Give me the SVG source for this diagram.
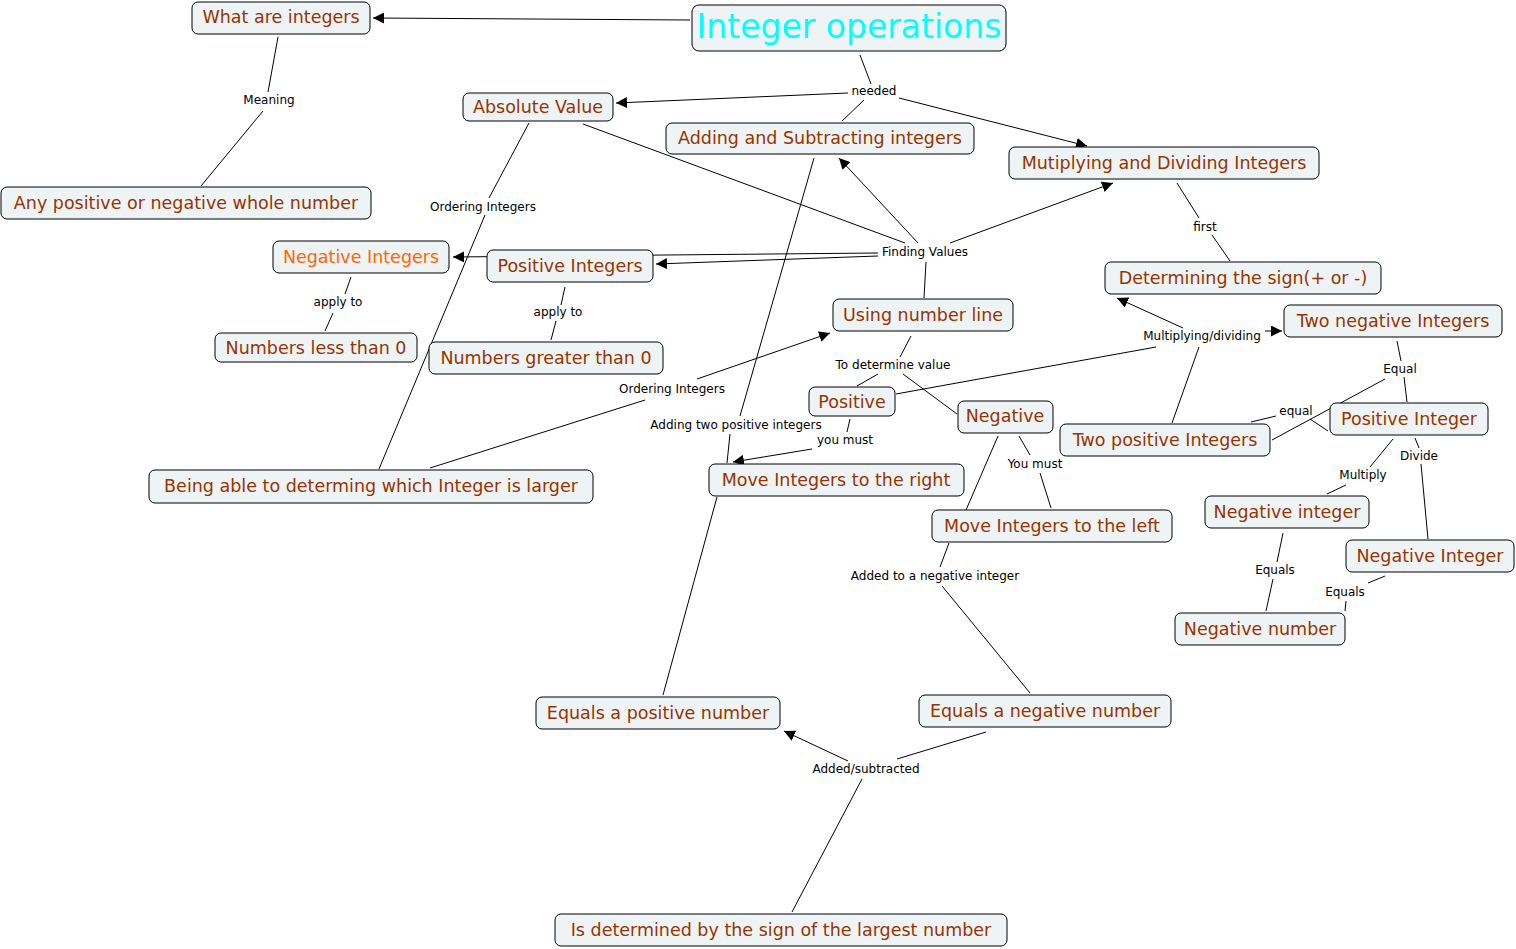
<svg xmlns="http://www.w3.org/2000/svg" width="1516" height="949" viewBox="0 0 1516 949">
<style>
.n rect{fill:#eef4f5;stroke:#000;stroke-width:1}
.n text{font-family:"DejaVu Sans",Verdana,sans-serif;font-size:17.5px;fill:#993300;text-anchor:middle}
.c line{stroke:#000;stroke-width:1}
.l{font-family:"DejaVu Sans",Verdana,sans-serif;font-size:12px;fill:#000;text-anchor:middle}
</style>
<defs><marker id="a" viewBox="0 0 10 10" refX="10" refY="5" markerWidth="11" markerHeight="11" markerUnits="userSpaceOnUse" orient="auto"><path d="M0,0L10,5L0,10z" fill="#000"/></marker></defs>
<rect width="1516" height="949" fill="#fff"/>
<g class="c">
<line x1="690" y1="20" x2="373" y2="18" marker-end="url(#a)"/>
<line x1="278" y1="37" x2="268" y2="92"/><line x1="263" y1="111" x2="201" y2="186"/>
<line x1="860" y1="55" x2="871" y2="84"/>
<line x1="848" y1="93" x2="616" y2="103" marker-end="url(#a)"/>
<line x1="864" y1="100" x2="842" y2="121"/>
<line x1="899" y1="98" x2="1087" y2="146" marker-end="url(#a)"/>
<line x1="529" y1="123" x2="489" y2="198"/><line x1="485" y1="215" x2="379" y2="469"/>
<line x1="583" y1="124" x2="905" y2="243"/>
<line x1="918" y1="243" x2="839" y2="158" marker-end="url(#a)"/>
<line x1="950" y1="243" x2="1113" y2="183" marker-end="url(#a)"/>
<line x1="878" y1="256" x2="656" y2="264" marker-end="url(#a)"/>
<line x1="878" y1="253" x2="453" y2="257" marker-end="url(#a)"/>
<line x1="926" y1="262" x2="924" y2="298"/>
<line x1="1177" y1="183" x2="1199" y2="218"/><line x1="1212" y1="235" x2="1230" y2="261"/>
<line x1="351" y1="277" x2="345" y2="294"/><line x1="333" y1="313" x2="325" y2="331"/>
<line x1="565" y1="287" x2="561" y2="305"/><line x1="556" y1="321" x2="551" y2="340"/>
<line x1="911" y1="336" x2="900" y2="357"/><line x1="878" y1="374" x2="857" y2="386"/><line x1="903" y1="374" x2="957" y2="414"/>
<line x1="896" y1="394" x2="1156" y2="347"/>
<line x1="1183" y1="328" x2="1117" y2="298" marker-end="url(#a)"/>
<line x1="1265" y1="331" x2="1282" y2="331" marker-end="url(#a)"/>
<line x1="1172" y1="423" x2="1199" y2="347"/>
<line x1="1397" y1="341" x2="1401" y2="361"/><line x1="1404" y1="377" x2="1407" y2="402"/>
<line x1="1385" y1="379" x2="1272" y2="440"/>
<line x1="1251" y1="422" x2="1276" y2="416"/><line x1="1310" y1="419" x2="1328" y2="431"/>
<line x1="1393" y1="439" x2="1370" y2="467"/><line x1="1346" y1="485" x2="1327" y2="494"/>
<line x1="1415" y1="438" x2="1419" y2="448"/><line x1="1421" y1="464" x2="1428" y2="539"/>
<line x1="1283" y1="533" x2="1277" y2="562"/><line x1="1273" y1="579" x2="1266" y2="611"/>
<line x1="1385" y1="576" x2="1368" y2="583"/><line x1="1346" y1="601" x2="1345" y2="611"/>
<line x1="430" y1="468" x2="645" y2="400"/>
<line x1="697" y1="379" x2="830" y2="333" marker-end="url(#a)"/>
<line x1="814" y1="158" x2="740" y2="416"/><line x1="730" y1="434" x2="727" y2="463"/><line x1="717" y1="497" x2="663" y2="695"/>
<line x1="850" y1="419" x2="847" y2="432"/>
<line x1="812" y1="449" x2="733" y2="462" marker-end="url(#a)"/>
<line x1="1019" y1="436" x2="1030" y2="455"/><line x1="1040" y1="473" x2="1051" y2="508"/>
<line x1="998" y1="436" x2="966" y2="510"/>
<line x1="949" y1="543" x2="940" y2="567"/><line x1="942" y1="586" x2="1030" y2="693"/>
<line x1="986" y1="732" x2="897" y2="759"/>
<line x1="848" y1="761" x2="784" y2="731" marker-end="url(#a)"/>
<line x1="862" y1="779" x2="792" y2="912"/>
</g>
<g class="l-group">
<text class="l" x="269" y="104">Meaning</text>
<text class="l" x="874" y="95">needed</text>
<text class="l" x="483" y="211">Ordering Integers</text>
<text class="l" x="925" y="256">Finding Values</text>
<text class="l" x="1205" y="231">first</text>
<text class="l" x="338" y="306">apply to</text>
<text class="l" x="558" y="316">apply to</text>
<text class="l" x="893" y="369">To determine value</text>
<text class="l" x="1202" y="340">Multiplying/dividing</text>
<text class="l" x="1400" y="373">Equal</text>
<text class="l" x="1296" y="415">equal</text>
<text class="l" x="672" y="393">Ordering Integers</text>
<text class="l" x="736" y="429">Adding two positive integers</text>
<text class="l" x="845" y="444">you must</text>
<text class="l" x="1035" y="468">You must</text>
<text class="l" x="1419" y="460">Divide</text>
<text class="l" x="1363" y="479">Multiply</text>
<text class="l" x="1275" y="574">Equals</text>
<text class="l" x="1345" y="596">Equals</text>
<text class="l" x="935" y="580">Added to a negative integer</text>
<text class="l" x="866" y="773">Added/subtracted</text>
</g>
<g id="n-title" class="n"><rect x="692" y="5" width="314" height="46" rx="7"/><text x="849" y="38" style="font-size:33px;fill:#00ffff">Integer operations</text></g>
<g id="n-what" class="n"><rect x="192" y="2" width="178" height="32" rx="6"/><text x="281" y="23">What are integers</text></g>
<g id="n-any" class="n"><rect x="1" y="187" width="370" height="32" rx="6"/><text x="186" y="209">Any positive or negative whole number</text></g>
<g id="n-abs" class="n"><rect x="463" y="93" width="150" height="28" rx="6"/><text x="538" y="113">Absolute Value</text></g>
<g id="n-add" class="n"><rect x="666" y="123" width="308" height="31" rx="6"/><text x="820" y="144">Adding and Subtracting integers</text></g>
<g id="n-mult" class="n"><rect x="1009" y="147" width="310" height="32" rx="6"/><text x="1164" y="169">Mutiplying and Dividing Integers</text></g>
<g id="n-sign" class="n"><rect x="1105" y="262" width="276" height="32" rx="6"/><text x="1243" y="284">Determining the sign(+ or -)</text></g>
<g id="n-negints" class="n"><rect x="273" y="241" width="176" height="32" rx="6"/><text x="361" y="263" style="fill:#ff6600">Negative Integers</text></g>
<g id="n-posints" class="n"><rect x="487" y="250" width="166" height="32" rx="6"/><text x="570" y="272">Positive Integers</text></g>
<g id="n-less" class="n"><rect x="215" y="333" width="202" height="29" rx="6"/><text x="316" y="354">Numbers less than 0</text></g>
<g id="n-greater" class="n"><rect x="429" y="342" width="234" height="32" rx="6"/><text x="546" y="364">Numbers greater than 0</text></g>
<g id="n-line" class="n"><rect x="833" y="299" width="180" height="32" rx="6"/><text x="923" y="321">Using number line</text></g>
<g id="n-twoneg" class="n"><rect x="1284" y="305" width="218" height="32" rx="6"/><text x="1393" y="327">Two negative Integers</text></g>
<g id="n-pos" class="n"><rect x="809" y="387" width="86" height="29" rx="6"/><text x="852" y="408">Positive</text></g>
<g id="n-neg" class="n"><rect x="958" y="401" width="95" height="32" rx="6"/><text x="1005" y="422">Negative</text></g>
<g id="n-twopos" class="n"><rect x="1060" y="424" width="210" height="32" rx="6"/><text x="1165" y="446">Two positive Integers</text></g>
<g id="n-posint" class="n"><rect x="1330" y="403" width="158" height="32" rx="6"/><text x="1409" y="425">Positive Integer</text></g>
<g id="n-being" class="n"><rect x="149" y="470" width="444" height="33" rx="6"/><text x="371" y="492">Being able to determing which Integer is larger</text></g>
<g id="n-right" class="n"><rect x="709" y="464" width="255" height="32" rx="6"/><text x="836" y="486">Move Integers to the right</text></g>
<g id="n-left" class="n"><rect x="932" y="510" width="240" height="32" rx="6"/><text x="1052" y="532">Move Integers to the left</text></g>
<g id="n-negint1" class="n"><rect x="1205" y="496" width="164" height="32" rx="6"/><text x="1287" y="518">Negative integer</text></g>
<g id="n-negint2" class="n"><rect x="1346" y="540" width="168" height="32" rx="6"/><text x="1430" y="562">Negative Integer</text></g>
<g id="n-negnum" class="n"><rect x="1175" y="613" width="170" height="32" rx="6"/><text x="1260" y="635">Negative number</text></g>
<g id="n-eqpos" class="n"><rect x="536" y="697" width="244" height="32" rx="6"/><text x="658" y="719">Equals a positive number</text></g>
<g id="n-eqneg" class="n"><rect x="919" y="695" width="252" height="32" rx="6"/><text x="1045" y="717">Equals a negative number</text></g>
<g id="n-det" class="n"><rect x="555" y="914" width="452" height="32" rx="6"/><text x="781" y="936">Is determined by the sign of the largest number</text></g>
</svg>
